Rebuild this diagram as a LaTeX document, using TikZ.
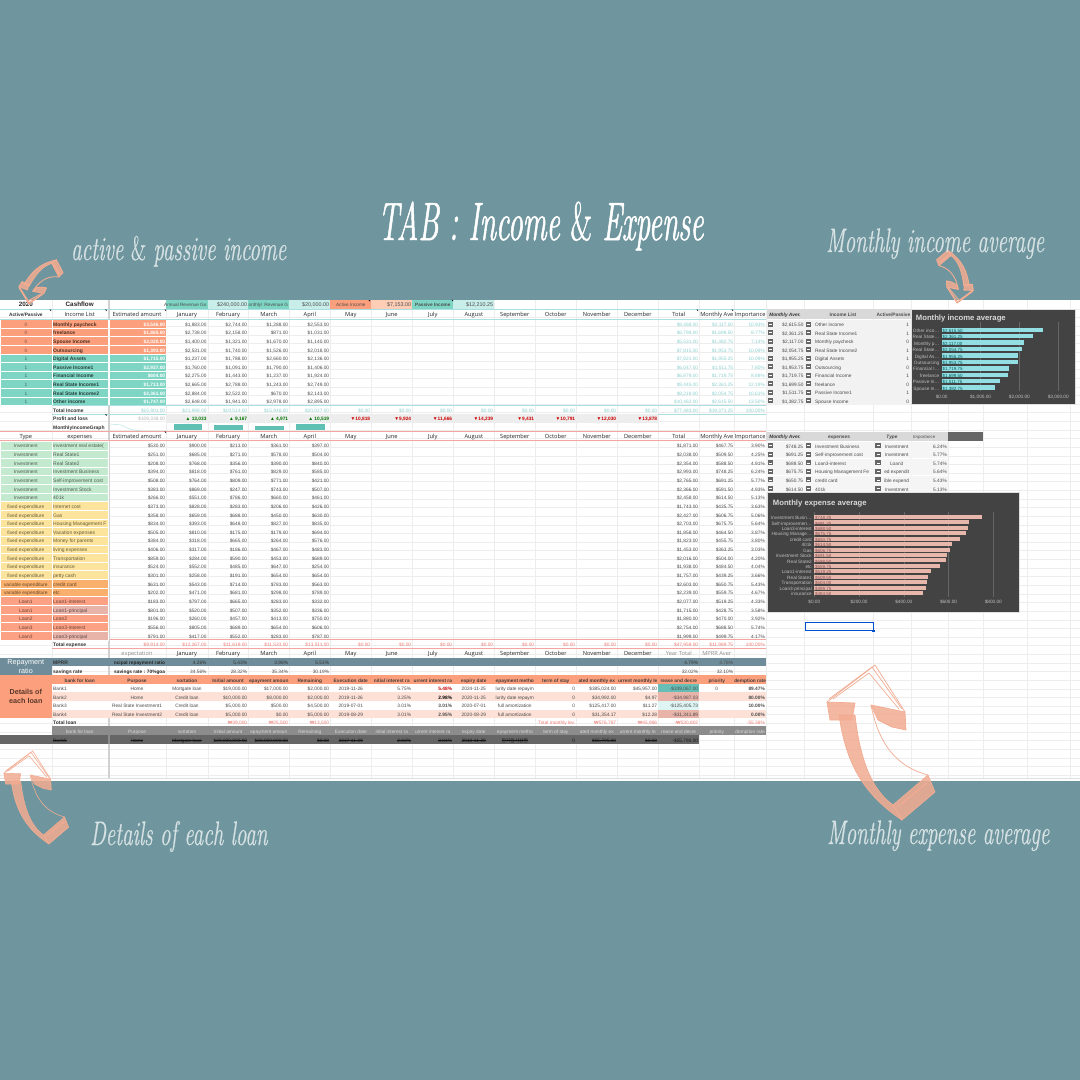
\documentclass[tikz,border=0pt]{standalone}
\usepackage{fontspec}
\setmainfont{Liberation Sans}
\newfontfamily\capfont[FakeStretch=0.62,FakeBold=0.5]{Latin Modern Roman}
\newfontfamily\titlefont[FakeStretch=0.55,FakeBold=0.9]{Latin Modern Roman}
\newfontfamily\headfont{Open Sans}
\newfontfamily\krfont{Noto Sans CJK KR}
\usetikzlibrary{positioning}
\pgfkeys{/pgf/number format/assume math mode=true}
\definecolor{bg_teal}{HTML}{6F969E}
\definecolor{cap_ink}{HTML}{D6E1E3}
\definecolor{arrow_salmon}{HTML}{F2AC92}
\definecolor{row_orange}{HTML}{FC9F7C}
\definecolor{row_teal}{HTML}{7FD5C4}
\definecolor{pale_teal}{HTML}{C9EEEA}
\definecolor{pale_salmon}{HTML}{FDCDB6}
\definecolor{line_teal}{HTML}{A9DFE0}
\definecolor{line_red}{HTML}{F3A5A0}
\definecolor{num_teal}{HTML}{8CCFCF}
\definecolor{num_red}{HTML}{EE7B74}
\definecolor{ink_grey}{HTML}{4A4A4A}
\definecolor{inv}{HTML}{C3E9CE}
\definecolor{fix}{HTML}{FDE49C}
\definecolor{var}{HTML}{F9B06C}
\definecolor{lon}{HTML}{FCA184}
\definecolor{pnk}{HTML}{E8B4AA}
\definecolor{band}{HTML}{6E8C99}
\definecolor{loan_alt}{HTML}{FDE0D6}
\definecolor{chart_bg}{HTML}{434343}
\definecolor{bar_teal}{HTML}{93DEE2}
\definecolor{bar_pink}{HTML}{E7B7AC}
\newcommand{\numfont}{\fontsize{4.8}{5.5}\selectfont}
\newcommand{\mny}[1]{\$\pgfmathprintnumber[fixed,fixed zerofill,precision=2,1000 sep={,}]{#1}}
\newcommand{\won}[1]{₩\pgfmathprintnumber[fixed,precision=0,1000 sep={,}]{#1}}
\newcommand{\strk}[1]{\setbox0\hbox{#1}\rlap{\rule[1.6pt]{\wd0}{.35pt}}\box0}
\foreach \xe [count=\ii from 0] in {0,51.7,107.7,166.3,207.7,248.3,289.3,330.3,371.3,412.3,453.3,494.3,535.3,576.3,617.3,658.3,699.3,734.3,766}
	{\expandafter\xdef\csname colx\ii\endcsname{\xe}}
\newcommand{\numat}[5][]{\edef\xe{\csname colx#3\endcsname}\pgfmathsetmacro\xr{\xe-1}\node[node_num,#1] (#2) at (\xr,#4) {#5};}
\newcommand{\midat}[5][]{\edef\xe{\csname colx#3\endcsname}\edef\xl{\csname colx\the\numexpr#3-1\endcsname}\pgfmathsetmacro\xr{(\xe+\xl)/2}\node[node_mid,#1] (#2) at (\xr,#4) {#5};}
\tikzset{
	node_num/.style = {
		anchor=mid east,
		inner sep=0pt,
		text=ink_grey,
		font=\numfont
	},
	node_mid/.style = {
		anchor=mid,
		inner sep=0pt,
		text=ink_grey,
		font=\numfont
	},
	node_lab/.style = {
		anchor=mid west,
		inner sep=0pt,
		text=ink_grey,
		font=\fontsize{5}{6}\selectfont
	},
	node_bold/.style = {
		node_lab,
		text=black!80,
		font=\fontsize{5}{6}\selectfont\bfseries
	},
	node_head/.style = {
		node_mid,
		text=black!85,
		font=\fontsize{5.7}{6.5}\selectfont\headfont
	},
	node_cap/.style = {
		anchor=base west,
		inner sep=0pt,
		text=cap_ink,
		font=\fontsize{34}{36}\selectfont\capfont\itshape
	},
	node_minus/.style = {
		fill=black!60,
		inner sep=0pt,
		minimum width=5.2pt,
		minimum height=5pt,
		anchor=west
	},
	node_chart/.style = {
		anchor=mid east,
		inner sep=0pt,
		text=black!25,
		font=\fontsize{4.7}{5}\selectfont
	},
	node_val/.style = {
		anchor=mid west,
		inner sep=0pt,
		font=\fontsize{4.5}{5}\selectfont
	},
	arrow_ink/.style = {
		draw=arrow_salmon,
		line join=round
	},
	arrow_fill/.style = {
		arrow_ink,
		fill=arrow_salmon,
		fill opacity=.85
	},
	sketch_arrow/.pic = {
		% head
		\draw[arrow_ink] (-48,37) -- (0,0) -- (30,47);
		\draw[arrow_ink] (-46,34) -- (-3,2) -- (27,44);
		\draw[arrow_ink] (-42,34) -- (-6,8) -- (24,44);
		\fill[arrow_fill] (-48,37) -- (-20,38) -- (-23,55) -- (-45,55) -- cycle;
		\fill[arrow_fill] (-4,40) -- (30,47) -- (31,65) -- (17,62) -- (3,55) -- cycle;
		% stem
		\fill[arrow_fill] (-36,50) .. controls (-30,90) and (-18,125) .. (27,155) -- (18,140) .. controls (-3,125) and (-15,95) .. (-20,50) -- cycle;
		\draw[arrow_ink] (-4,40) .. controls (2,70) and (15,100) .. (53,110);
		% tail
		\fill[arrow_fill] (18,140) -- (27,155) -- (60,127) -- (53,110) -- cycle;
		\foreach \s in {0,4,8,12}
			\draw[arrow_ink] (22+\s,142-\s*.8) -- (52,118);
	},
}
\begin{document}
\begin{tikzpicture}[x=1pt,y=-1pt]
\useasboundingbox (0,0) rectangle (1080,1080);
\fill[bg_teal] (0,0) rectangle (1080,1080);
\fill[white] (0,299.5) rectangle (1080,781);
% sheet grid
\foreach \y in {309,317.63,...,778}
	\draw[black!7,line width=.35pt] (0,\y) -- (1080,\y);
\foreach \x in {51.7,166.3,207.7,248.3,289.3,330.3,371.3,412.3,453.3,494.3,535.3,576.3,617.3,658.3,699.3,734.3,766,804.5,873.5,911,948,983,1027,1070}
	\draw[black!7,line width=.35pt] (\x,299.5) -- (\x,778);
\fill[black!18] (107.7,299.5) rectangle (109.5,778);
\draw[black!12,line width=.5pt] (0,778.5) -- (1080,778.5);
% top row
\fill[row_teal] (166.3,299.5) rectangle (207.7,309);
\fill[pale_teal] (207.7,299.5) rectangle (248.3,309);
\fill[row_teal] (248.3,299.5) rectangle (289.3,309);
\fill[pale_teal] (289.3,299.5) rectangle (330.3,309);
\fill[row_orange] (330.3,299.5) rectangle (371.3,309);
\fill[pale_salmon] (371.3,299.5) rectangle (412.3,309);
\fill[row_teal] (412.3,299.5) rectangle (453.3,309);
\fill[pale_teal] (453.3,299.5) rectangle (494.3,309);
\midat[node_head,font=\fontsize{6.3}{7}\selectfont\bfseries]{top_year}{1}{304.3}{2020}
\midat[node_head,font=\fontsize{6.3}{7}\selectfont\bfseries]{top_flow}{2}{304.3}{Cashflow}
\numat[font=\fontsize{4.7}{5}\selectfont]{top_goal}{4}{304.3}{Annual Revenue Go}
\numat[font=\fontsize{5.4}{6}\selectfont]{top_year_val}{5}{304.3}{\mny{240000}}
\numat[font=\fontsize{4.7}{5}\selectfont]{top_month}{6}{304.3}{onthly! Revenue G}
\numat[font=\fontsize{5.4}{6}\selectfont]{top_month_val}{7}{304.3}{\mny{20000}}
\midat[font=\fontsize{4.7}{5}\selectfont,text=black!70]{top_act}{8}{304.3}{Active Income}
\numat[font=\fontsize{5.4}{6}\selectfont]{top_act_val}{9}{304.3}{\mny{7153}}
\midat[font=\fontsize{4.7}{5}\selectfont\bfseries,text=black!70]{top_pas}{10}{304.3}{Passive Income}
\numat[font=\fontsize{5.4}{6}\selectfont]{top_pas_val}{11}{304.3}{\mny{12210.25}}
% three month headers
\foreach \yy/\tag in {314.3/a,436/b,653.3/c}
	\foreach \m [count=\cc from 4] in {January,February,March,April,May,June,July,August,September,October,November,December}
		{\midat[node_head]{head\tag\cc}{\cc}{\yy}{\m}}
\midat[node_bold,anchor=mid,font=\fontsize{4.8}{5}\selectfont\bfseries]{h_active}{1}{314.3}{Active/Passive}
\midat[node_head]{h_income}{2}{314}{Income List}
\midat[node_head]{h_est}{3}{314}{Estimated amount}
\midat[node_head]{h_total}{16}{314.3}{Total}
\midat[node_head]{h_avg}{17}{314.3}{Monthly Ave}
\midat[node_head]{h_imp}{18}{314.3}{Importance}
\midat[node_head]{h_type}{1}{436}{Type}
\midat[node_head]{h_exp}{2}{436}{expenses}
\midat[node_head]{h_est2}{3}{436}{Estimated amount}
\midat[node_head]{h_total2}{16}{436}{Total}
\midat[node_head]{h_avg2}{17}{436}{Monthly Ave}
\midat[node_head]{h_imp2}{18}{436}{Importance}
\midat[node_head,text=black!45]{h_expect}{3}{653.3}{expectation}
\midat[node_head,text=black!45]{h_year}{16}{653.3}{Year Total}
\midat[node_head,text=black!45]{h_mprr}{17}{653.3}{MPRR Aver}
% income table
\foreach \tp/\col/\lab/\est/\va/\vb/\vc/\vd/\tot/\avg/\pct [count=\ri] in {
	0/row_orange/Monthly paycheck/3546/1883/2744/1288/2553/8468/2117/10.93,
	0/row_orange/freelance/1865/2738/2158/871/1031/6798/1699.5/8.77,
	0/row_orange/Spouse Income/2020/1400/1321/1670/1140/5531/1382.75/7.14,
	0/row_orange/Outsourcing/1393/2531/1740/1526/2018/7815/1953.75/10.09,
	1/row_teal/Digital Assets/1715/1237/1788/2660/2136/7821/1955.25/10.09,
	1/row_teal/Passive Income1/2937/1760/1091/1790/1406/6047/1511.75/7.80,
	1/row_teal/Financial Income/604/2275/1443/1237/1924/6879/1719.75/8.88,
	1/row_teal/Real State Income1/1713/2665/2788/1243/2749/9445/2361.25/12.19,
	1/row_teal/Real State Income2/2361/2884/2522/670/2143/8219/2054.75/10.61,
	1/row_teal/Other income/1747/2648/1941/2978/2895/10462/2615.5/13.50}
{
	\pgfmathsetmacro\yy{323.7+8.59*(\ri-1)}
	\fill[\col,draw=white,line width=.25pt] (0,\yy-4.3) rectangle (51.7,\yy+4.3);
	\fill[\col,draw=white,line width=.25pt] (51.7,\yy-4.3) rectangle (107.7,\yy+4.3);
	\fill[\col,draw=white,line width=.25pt] (109.5,\yy-4.3) rectangle (166.3,\yy+4.3);
	\midat[text=\col!50!black]{inc\ri a}{1}{\yy}{\tp}
	\node[node_bold,text=\col!30!black] (inc\ri b) at (53,\yy) {\lab};
	\numat[text=white,font=\numfont\bfseries]{inc\ri c}{3}{\yy}{\mny{\est}}
	\numat{inc\ri d}{4}{\yy}{\mny{\va}}
	\numat{inc\ri e}{5}{\yy}{\mny{\vb}}
	\numat{inc\ri f}{6}{\yy}{\mny{\vc}}
	\numat{inc\ri g}{7}{\yy}{\mny{\vd}}
	\numat[text=num_teal]{inc\ri p}{16}{\yy}{\mny{\tot}}
	\numat[text=num_teal]{inc\ri q}{17}{\yy}{\mny{\avg}}
	\numat[text=num_teal]{inc\ri r}{18}{\yy}{\pct\%}
}
\draw[line_teal,line width=.7pt] (0,309.3) -- (766,309.3);
\draw[line_teal,line width=.7pt] (0,319.2) -- (766,319.2);
\draw[line_teal,line width=.7pt] (51.7,405.6) -- (766,405.6);
\draw[line_teal,line width=.5pt] (51.7,414.1) -- (766,414.1);
% total income
\node[node_bold] (tot_inc) at (53,409.7) {Total Income};
\foreach \v [count=\cc from 3] in {15901,21998,19514,15946,20027,0,0,0,0,0,0,0,0,77483,19371.25}
	{\numat[text=num_teal]{ti\cc}{\cc}{409.7}{\mny{\v}}}
\numat[text=num_teal]{ti18}{18}{409.7}{100.00\%}
% profit and loss
\fill[black!7] (166.3,414.3) rectangle (658.3,422.8);
\node[node_bold] (pnl) at (53,418.1) {Profit and loss};
\numat[text=black!30]{pnl_c}{3}{418.1}{\mny{109338}}
\foreach \v [count=\cc from 4] in {13.033,9.167,4.971,10.519}
	{\numat[text=green!45!black,font=\numfont\bfseries]{pup\cc}{\cc}{418.1}{▲ \pgfmathprintnumber[fixed,fixed zerofill,precision=3,use comma,1000 sep={}]{\v}}}
\foreach \v [count=\cc from 8] in {10.818,9.924,11.666,14.239,9.431,10.791,12.030,13.878}
	{\numat[text=red!80!black,font=\numfont\bfseries]{pdn\cc}{\cc}{418.1}{▼\pgfmathprintnumber[fixed,fixed zerofill,precision=3,use comma,1000 sep={}]{\v}}}
% graph row
\node[node_bold] (graph) at (53,426.8) {MonthlyIncomeGraph};
\draw[line_teal,line width=.4pt] (110.5,424) -- (121,425) -- (131,429.5) -- (141,431) -- (165,431);
\fill[row_teal!75!teal] (173.7,424) rectangle (202.3,430.2);
\fill[row_teal!75!teal] (214.3,424.6) rectangle (243.3,430.2);
\fill[row_teal!75!teal] (255.3,425.5) rectangle (284.3,430.2);
\fill[row_teal!75!teal] (296,424.1) rectangle (325,430.2);
\draw[line_red,line width=.7pt] (0,431.2) -- (766,431.2);
\draw[line_red,line width=.7pt] (0,440.4) -- (766,440.4);
% expense table
\foreach \tc/\bc/\tp/\lab/\est/\va/\vb/\vc/\vd/\tot/\avg/\pct [count=\ri] in {
	inv/inv/Investment/investment real estate(/530/900/213/361/397/1871/467.75/3.90,
	inv/inv/Investment/Real State1/251/685/271/578/504/2038/509.5/4.25,
	inv/inv/Investment/Real State2/208/768/356/390/840/2354/588.5/4.91,
	inv/inv/Investment/Investment Business/394/818/761/829/585/2993/748.25/6.24,
	inv/inv/Investment/Self-improvement cost/508/764/809/771/421/2765/691.25/5.77,
	inv/inv/Investment/Investment Stock/383/869/247/743/507/2366/591.5/4.93,
	inv/inv/Investment/401k/266/551/786/660/461/2458/614.5/5.13,
	fix/fix/fixed expenditure/Internet cost/373/828/283/206/426/1743/435.75/3.63,
	fix/fix/fixed expenditure/Gas/358/659/688/450/630/2427/606.75/5.06,
	fix/fix/fixed expenditure/Housing Management F/834/393/648/827/835/2703/675.75/5.64,
	fix/fix/fixed expenditure/Vacation expenses/505/810/175/179/694/1858/464.5/3.87,
	fix/fix/fixed expenditure/Money for parents/384/318/665/264/576/1823/455.75/3.80,
	fix/fix/fixed expenditure/living expenses/406/317/186/467/483/1453/363.25/3.03,
	fix/fix/fixed expenditure/Transportation/859/284/590/453/689/2016/504/4.20,
	fix/fix/fixed expenditure/insurance/524/552/485/647/254/1938/484.5/4.04,
	fix/fix/fixed expenditure/petty cash/301/258/191/654/654/1757/439.25/3.66,
	var/var/variable expenditure/credit card/631/543/714/783/563/2603/650.75/5.43,
	var/var/variable expenditure/etc/202/471/681/298/789/2239/559.75/4.67,
	lon/lon/Loan1/Loan1-interest/183/797/665/283/332/2077/519.25/4.33,
	lon/pnk/Loan1/Loan1-principal/801/520/507/352/336/1715/428.75/3.58,
	lon/lon/Loan2/Loan2/196/260/457/413/750/1880/470/3.92,
	lon/lon/Loan3/Loan3-interest/556/805/689/654/606/2754/688.5/5.74,
	lon/pnk/Loan3/Loan3-principal/791/417/552/283/787/1999/499.75/4.17}
{
	\pgfmathsetmacro\yy{445.3+8.64*(\ri-1)}
	\fill[\tc,draw=white,line width=.2pt] (0,\yy-4.32) rectangle (51.7,\yy+4.32);
	\fill[\bc,draw=white,line width=.2pt] (51.7,\yy-4.32) rectangle (107.7,\yy+4.32);
	\midat[font=\fontsize{4.85}{5.5}\selectfont,text=\tc!40!black]{exp\ri a}{1}{\yy}{\tp}
	\node[node_lab,text=\bc!40!black] (exp\ri b) at (53,\yy) {\lab};
	\numat{exp\ri c}{3}{\yy}{\mny{\est}}
	\numat{exp\ri d}{4}{\yy}{\mny{\va}}
	\numat{exp\ri e}{5}{\yy}{\mny{\vb}}
	\numat{exp\ri f}{6}{\yy}{\mny{\vc}}
	\numat{exp\ri g}{7}{\yy}{\mny{\vd}}
	\numat{exp\ri p}{16}{\yy}{\mny{\tot}}
	\numat{exp\ri q}{17}{\yy}{\mny{\avg}}
	\numat{exp\ri r}{18}{\yy}{\pct\%}
}
% total expense
\draw[line_red,line width=.6pt] (109.5,639.7) -- (766,639.7);
\draw[line_red,line width=.6pt] (51.7,648.6) -- (766,648.6);
\node[node_bold] (tot_exp) at (53,644) {Total expense};
\foreach \v [count=\cc from 3] in {9914,12267,11619,11533,13511,0,0,0,0,0,0,0,0,47959,11989.75}
	{\numat[text=num_red]{te\cc}{\cc}{644}{\mny{\v}}}
\numat[text=num_red]{te18}{18}{644}{100.00\%}
% ratio block
\fill[band] (0,657.7) rectangle (51.7,675);
\node[anchor=center,inner sep=0pt,align=center,text=white,font=\fontsize{7.2}{8.6}\selectfont] (ratio) at (25.8,666.4) {Repayment\\ratio};
\fill[band] (51.7,657.7) rectangle (766,666.3);
\node[node_bold] (mprr) at (53,662) {MPRR};
\numat[font=\numfont\bfseries,text=black!85]{mprr_c}{3}{662}{ncipal repayment ratio}
\node[node_bold] (save) at (53,670.7) {savings rate};
\numat[font=\numfont\bfseries,text=black!85]{save_c}{3}{670.7}{savings rate : 70\%goa}
\foreach \v [count=\cc from 4] in {4.26,5.43,3.98,5.51}
	{\numat[text=black!80]{mp\cc}{\cc}{662}{\v\%}}
\foreach \v [count=\cc from 4] in {34.56,28.32,35.34,30.19}
	{\numat{sv\cc}{\cc}{670.7}{\v\%}}
\numat[text=black!80]{mp16}{16}{662}{4.79\%}
\numat[text=black!70]{mp17}{17}{662}{4.76\%}
\numat{sv16}{16}{670.7}{32.02\%}
\numat{sv17}{17}{670.7}{32.10\%}
% loan block
\fill[row_orange] (0,675) rectangle (51.7,717.7);
\node[anchor=center,inner sep=0pt,align=center,text=row_orange!35!black,font=\fontsize{7.2}{9}\selectfont\bfseries] (details) at (25.8,696.5) {Details of\\each loan};
\fill[row_orange] (51.7,675) rectangle (766,683.7);
\foreach \yy/\cl in {683.7/white,692.3/loan_alt,701/white,709.6/loan_alt}
	\fill[\cl] (51.7,\yy) rectangle (766,\yy+8.65);
\fill[row_teal!60!teal!85] (658.3,683.7) rectangle (699.3,692.3);
\fill[pnk] (658.3,692.3) rectangle (699.3,701);
\fill[pale_teal!60] (658.3,701) rectangle (699.3,709.6);
\fill[pnk] (658.3,709.6) rectangle (699.3,717.8);
\fill[black!45] (51.7,726.3) rectangle (766,735);
\fill[black!60] (0,735) rectangle (699.3,743.7);
\fill[black!45] (107.7,726.3) rectangle (109.5,743.7);
\foreach \hd [count=\cc from 2] in {bank for loan,Purpose,sortation,Initial amount,epayment amoun,Remaining,Execution date,nitial interest ra,urrent interest ra,expiry date,epayment metho,term of stay,ated monthly ex,urrent monthly le,rease and decre,priority,demption rate}
{
	\midat[font=\numfont\bfseries,text=black!75]{lh\cc}{\cc}{679.5}{\hd}
	\midat[text=black!15]{gh\cc}{\cc}{730.7}{\hd}
}
\foreach \bank/\purp/\sort/\ini/\rep/\rem/\ex/\ra/\rb/\rc/\exq/\meth/\ev/\cv/\dv/\pri/\red [count=\ri] in {
	Bank1/Home/Mortgate loan/19000/17000/2000/2019-11-26/5.75/5.48/red!80!black/2024-11-25/lurity date repaym/385024/45957/339067/0/89.47,
	Bank2/Home/Credit loan/10000/8000/2000/2019-11-26/3.25/2.98/black/2020-11-25/lurity date repaym/34992/4.97/34987.03//80.00,
	Bank3/Real State Investment1/Credit loan/5000/500/4500/2019-07-01/3.01/3.01/black!70/2020-07-01/full amortization/125417/11.27/125405.73//10.00,
	Bank4/Real State Investment2/Credit loan/5000/0/5000/2019-08-29/3.01/2.95/black!70/2020-08-29/full amortization/31354.17/12.28/31341.89//0.00}
{
	\pgfmathsetmacro\yy{688+8.62*(\ri-1)}
	\node[node_lab,font=\numfont] (ln\ri b) at (53,\yy) {\bank};
	\midat{ln\ri c}{3}{\yy}{\purp}
	\midat{ln\ri d}{4}{\yy}{\sort}
	\numat{ln\ri e}{5}{\yy}{\mny{\ini}}
	\numat{ln\ri f}{6}{\yy}{\mny{\rep}}
	\numat{ln\ri g}{7}{\yy}{\mny{\rem}}
	\midat{ln\ri h}{8}{\yy}{\ex}
	\numat{ln\ri i}{9}{\yy}{\ra\%}
	\numat[text=\rc,font=\numfont\bfseries]{ln\ri j}{10}{\yy}{\rb\%}
	\midat{ln\ri k}{11}{\yy}{\exq}
	\midat{ln\ri l}{12}{\yy}{\meth}
	\numat{ln\ri m}{13}{\yy}{0}
	\numat{ln\ri n}{14}{\yy}{\mny{\ev}}
	\numat{ln\ri o}{15}{\yy}{\mny{\cv}}
	\numat{ln\ri p}{16}{\yy}{-\mny{\dv}}
	\midat{ln\ri q}{17}{\yy}{\pri}
	\numat[font=\numfont\bfseries]{ln\ri r}{18}{\yy}{\red\%}
}
% total loan
\node[node_bold] (tot_loan) at (53,722) {Total loan};
\foreach \v [count=\cc from 5] in {39000,25500,13500}
	{\numat[text=num_red]{tl\cc}{\cc}{722}{\won{\v}}}
\numat[text=num_red]{tl13}{13}{722}{Total monthly lev.}
\numat[text=num_red]{tl14}{14}{722}{\won{576787}}
\numat[text=num_red]{tl15}{15}{722}{\won{45986}}
\numat[text=num_red]{tl16}{16}{722}{-\won{530802}}
\numat[text=num_red]{tl18}{18}{722}{-55.38\%}
% struck out row
\node[node_lab,font=\numfont,text=black!90] (b5b) at (53,739.4) {\strk{Bank5}};
\midat[text=black!90]{b5c}{3}{739.4}{\strk{Home}}
\midat[text=black!90]{b5d}{4}{739.4}{\strk{Mortgate loan}}
\numat[text=black!90]{b5e}{5}{739.4}{\strk{\$20,000,000.00}}
\numat[text=black!90]{b5f}{6}{739.4}{\strk{\$20,000,000.00}}
\numat[text=black!90]{b5g}{7}{739.4}{\strk{\$0.00}}
\midat[text=black!90]{b5h}{8}{739.4}{\strk{2017-11-29}}
\numat[text=black!90]{b5i}{9}{739.4}{\strk{2.03\%}}
\numat[text=black!90]{b5j}{10}{739.4}{\strk{3.84\%}}
\midat[text=black!90]{b5k}{11}{739.4}{\strk{2018-11-29}}
\midat[text=black!90,font=\numfont\krfont]{b5l}{12}{739.4}{\strk{만기일시상환}}
\numat[text=black!90]{b5m}{13}{739.4}{0}
\numat[text=black!90]{b5n}{14}{739.4}{\strk{\$55,795.00}}
\numat[text=black!90]{b5o}{15}{739.4}{\strk{\$0.00}}
\numat[text=black!90]{b5p}{16}{739.4}{-\$55,795.00}
% income pivot
\fill[black!15] (767,309) rectangle (911,319);
\node[node_mid,font=\numfont\bfseries\itshape,text=black!80] (pi_avg) at (785,313.4) {Monthly Aver.};
\node[node_mid,font=\numfont\bfseries,text=black!70] (pi_list) at (843,313.4) {Income List};
\node[node_num,font=\numfont\bfseries,text=black!70] (pi_act) at (910.5,313.4) {Active/Passive};
\fill[chart_bg,draw=black!12,line width=.4pt] (911,309) rectangle (1075,404);
\node[anchor=mid west,inner sep=0pt,text=black!15,font=\fontsize{7.7}{9}\selectfont\bfseries] (ct_inc) at (915.7,318) {Monthly income average};
\foreach \k in {1,2,3}
	\draw[black!60,line width=.3pt] (941.7+\k*38.85,322) -- (941.7+\k*38.85,391);
\foreach \lab/\clab/\val/\act [count=\ri from 0] in {
	Other income/Other inco…/2615.5/1,
	Real State Income1/Real State…/2361.25/1,
	Monthly paycheck/Monthly p…/2117/0,
	Real State Income2/Real State…/2054.75/1,
	Digital Assets/Digital As…/1955.25/1,
	Outsourcing/Outsourcing/1953.75/0,
	Financial Income/Financial I…/1719.75/1,
	freelance/freelance/1699.5/0,
	Passive Income1/Passive In…/1511.75/1,
	Spouse Income/Spouse In…/1382.75/0}
{
	\pgfmathsetmacro\yy{324+8.52*\ri}
	\pgfmathsetmacro\yb{329.7+6.44*\ri}
	\pgfmathsetmacro\xb{941.7+\val*0.03885}
	\fill[black!5] (767,\yy-4.2) rectangle (911,\yy+4.2);
	\node[node_minus] (pia\ri) at (767.6,\yy) {\textcolor{white}{\rule{3pt}{.5pt}}};
	\node[node_minus] (pib\ri) at (806,\yy) {\textcolor{white}{\rule{3pt}{.5pt}}};
	\node[node_num] (piv\ri) at (803.7,\yy) {\mny{\val}};
	\node[node_lab,font=\numfont] (pil\ri) at (815,\yy) {\lab};
	\node[node_num] (pic\ri) at (909.3,\yy) {\act};
	\fill[bar_teal] (941.7,\yb-2.2) rectangle (\xb,\yb+2.2);
	\node[node_chart] (cil\ri) at (939.5,\yb) {\clab};
	\node[node_val,text=teal!70!black] (civ\ri) at (942.5,\yb) {\mny{\val}};
}
\foreach \k in {0,1,2,3}
	{\pgfmathsetmacro\xb{941.7+\k*38.85}\pgfmathsetmacro\vb{\k*1000}\node[node_chart,anchor=mid] (cia\k) at (\xb,396) {\mny{\vb}};}
% expense pivot
\fill[black!15] (766,431.5) rectangle (948,441);
\fill[black!60] (948,431.5) rectangle (983,441);
\node[node_mid,font=\numfont\bfseries\itshape,text=black!80] (pe_avg) at (785,436) {Monthly Aver.};
\node[node_mid,font=\numfont\bfseries,text=black!70] (pe_list) at (839,436) {expenses};
\node[node_mid,font=\numfont\bfseries\itshape,text=black!70] (pe_type) at (892,436) {Type};
\node[node_lab,font=\fontsize{4.4}{5}\selectfont\itshape] (pe_imp) at (913,436) {Importance};
\foreach \val/\lab/\tp/\pct [count=\ri from 0] in {
	748.25/Investment Business/Investment/6.24,
	691.25/Self-improvement cost/Investment/5.77,
	688.5/Loan3-interest/Loan3/5.74,
	675.75/Housing Management Fe/ed expendit/5.64,
	650.75/credit card/ible expend/5.43,
	614.5/401k/Investment/5.13}
{
	\pgfmathsetmacro\yy{445.7+8.53*\ri}
	\fill[black!4] (766,\yy-4.2) rectangle (948,\yy+4.2);
	\node[node_minus] (pea\ri) at (767.4,\yy) {\textcolor{white}{\rule{3pt}{.5pt}}};
	\node[node_minus] (peb\ri) at (806,\yy) {\textcolor{white}{\rule{3pt}{.5pt}}};
	\node[node_minus] (pec\ri) at (875.2,\yy) {\textcolor{white}{\rule{3pt}{.5pt}}};
	\node[node_num] (pev\ri) at (803.3,\yy) {\mny{\val}};
	\node[node_lab,font=\numfont] (pel\ri) at (815,\yy) {\lab};
	\node[node_mid] (pet\ri) at (896.7,\yy) {\tp};
	\node[node_num] (pep\ri) at (947,\yy) {\pct\%};
}
% expense chart
\fill[chart_bg,draw=black!12,line width=.4pt] (767.3,492.3) rectangle (1018.7,612);
\node[anchor=mid west,inner sep=0pt,text=black!15,font=\fontsize{7.7}{9}\selectfont\bfseries] (ct_exp) at (772.7,502.7) {Monthly expense average};
\foreach \k in {0,1,2,3,4}
{
	\pgfmathsetmacro\xb{814.3+\k*44.76}
	\pgfmathsetmacro\vb{\k*200}
	\draw[black!60,line width=.3pt] (\xb,512) -- (\xb,597);
	\node[node_chart,anchor=mid] (cea\k) at (\xb,601) {\mny{\vb}};
}
\foreach \clab/\val [count=\ri from 0] in {
	Investment Busin…/748.25,
	Self-improvemen…/691.25,
	Loan3-interest/688.5,
	Housing Manage…/675.75,
	credit card/650.75,
	401k/614.5,
	Gas/606.75,
	Investment Stock/591.5,
	Real State2/588.5,
	etc/559.75,
	Loan1-interest/519.25,
	Real State1/509.5,
	Transportation/504,
	Loan3-principal/499.75,
	insurance/484.5}
{
	\pgfmathsetmacro\yb{517+5.43*\ri}
	\pgfmathsetmacro\xb{814.3+\val*0.2238}
	\fill[bar_pink] (814.3,\yb-2) rectangle (\xb,\yb+2);
	\node[node_chart] (cel\ri) at (812,\yb) {\clab};
	\node[node_val,text=red!30!black!70] (cev\ri) at (815,\yb) {\mny{\val}};
}
% selected cell
\draw[blue!60!cyan!80!black,line width=.7pt] (805,622.7) rectangle (873.3,630.7);
\fill[blue!60!cyan!80!black] (872.3,629.7) rectangle (874.6,632);
% comment marks
\foreach \xc/\yc in {51/309.6,106.5/309.6,166/309.6,370/300,453/299.8,698/309.6,733/309.6,106.5/414.3,166/431.5}
	\fill[black] (\xc-1.6,\yc) -- (\xc,\yc) -- (\xc,\yc+1.6) -- cycle;
% arrows
\pic[rotate=158,xscale=-.33,yscale=.33,line width=.9pt] at (29,304) {sketch_arrow};
\pic[rotate=180,scale=.34,line width=.9pt] at (957,303) {sketch_arrow};
\pic[scale=.6,line width=.6pt] at (32.7,751) {sketch_arrow};
\pic[line width=.7pt] at (875,665) {sketch_arrow};
% captions
\node[anchor=base west,inner sep=0pt,text=white,font=\fontsize{54}{60}\selectfont\titlefont\itshape] (title) at (378,240) {TAB : Income \textup{\&} Expense};
\node[node_cap] (cap_active) at (71,260) {active \textup{\&} passive income};
\node[node_cap] (cap_income) at (826,252) {Monthly income average};
\node[node_cap] (cap_loan) at (90,845) {Details of each loan};
\node[node_cap] (cap_expense) at (827,844) {Monthly expense average};
\end{tikzpicture}
\end{document}
